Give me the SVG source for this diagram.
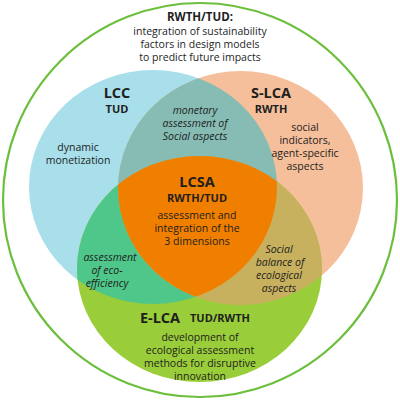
<svg xmlns="http://www.w3.org/2000/svg" width="400" height="400" viewBox="0 0 400 400">
<style>
text{font-family:"Open Sans","DejaVu Sans",sans-serif;fill:#1e1e1e;text-anchor:middle;font-size:10.5px}
.h{font-weight:bold;font-size:14.5px}
.s{font-weight:bold;font-size:11px}
.i{font-style:italic}
</style>
<defs>
<clipPath id="cB"><ellipse cx="153" cy="187" rx="124" ry="117"/></clipPath>
<clipPath id="cP"><ellipse cx="240.5" cy="188" rx="122.5" ry="117"/></clipPath>
</defs>
<rect width="400" height="400" fill="#fff"/>
<g id="outer">
<circle cx="200" cy="200" r="197" fill="none" stroke="#6cbf3c" stroke-width="2.2"/>
<text x="200" y="21" class="s" style="font-size:11.5px">RWTH/TUD:</text>
<text x="200" y="35">integration of sustainability</text>
<text x="200" y="48">factors in design models</text>
<text x="200" y="61">to predict future impacts</text>
</g>
<g id="regions">
<ellipse cx="153" cy="187" rx="124" ry="117" fill="#a8dfea"/>
<ellipse cx="240.5" cy="188" rx="122.5" ry="117" fill="#f5bf9b"/>
<ellipse cx="199.5" cy="269" rx="122.5" ry="113" fill="#9acd3a"/>
<ellipse cx="240.5" cy="188" rx="122.5" ry="117" fill="#87bcb4" clip-path="url(#cB)"/>
<ellipse cx="199.5" cy="269" rx="122.5" ry="113" fill="#4fc78a" clip-path="url(#cB)"/>
<ellipse cx="199.5" cy="269" rx="122.5" ry="113" fill="#c8b15e" clip-path="url(#cP)"/>
<g clip-path="url(#cB)"><ellipse cx="199.5" cy="269" rx="122.5" ry="113" fill="#f07f00" clip-path="url(#cP)"/></g>
</g>
<g id="lcc">
<text x="117" y="98" class="h">LCC</text>
<text x="117" y="113" class="s">TUD</text>
<text x="78" y="151">dynamic</text>
<text x="78" y="164">monetization</text>
</g>
<g id="slca">
<text x="271" y="98" class="h">S-LCA</text>
<text x="271" y="113" class="s">RWTH</text>
<text x="305" y="131">social</text>
<text x="305" y="144">indicators,</text>
<text x="305" y="157">agent-specific</text>
<text x="305" y="170">aspects</text>
</g>
<g id="lcc-slca">
<text x="195" y="114" class="i">monetary</text>
<text x="195" y="127" class="i">assessment of</text>
<text x="195" y="140" class="i">Social aspects</text>
</g>
<g id="lcsa">
<text x="197" y="187" class="h">LCSA</text>
<text x="197" y="202" class="s">RWTH/TUD</text>
<text x="197" y="219">assessment and</text>
<text x="197" y="232">integration of the</text>
<text x="197" y="245">3 dimensions</text>
</g>
<g id="lcc-elca">
<text x="110" y="261" class="i">assessment</text>
<text x="107" y="274" class="i">of eco-</text>
<text x="107" y="287" class="i">efficiency</text>
</g>
<g id="slca-elca">
<text x="279" y="253" class="i">Social</text>
<text x="280" y="266" class="i">balance of</text>
<text x="279" y="279" class="i">ecological</text>
<text x="279" y="292" class="i">aspects</text>
</g>
<g id="elca">
<text x="160" y="323" class="h">E-LCA</text>
<text x="220" y="322" class="s">TUD/RWTH</text>
<text x="200" y="341">development of</text>
<text x="200" y="354">ecological assessment</text>
<text x="200" y="367">methods for disruptive</text>
<text x="200" y="380">innovation</text>
</g>
<g id="connectors"/>
</svg>
